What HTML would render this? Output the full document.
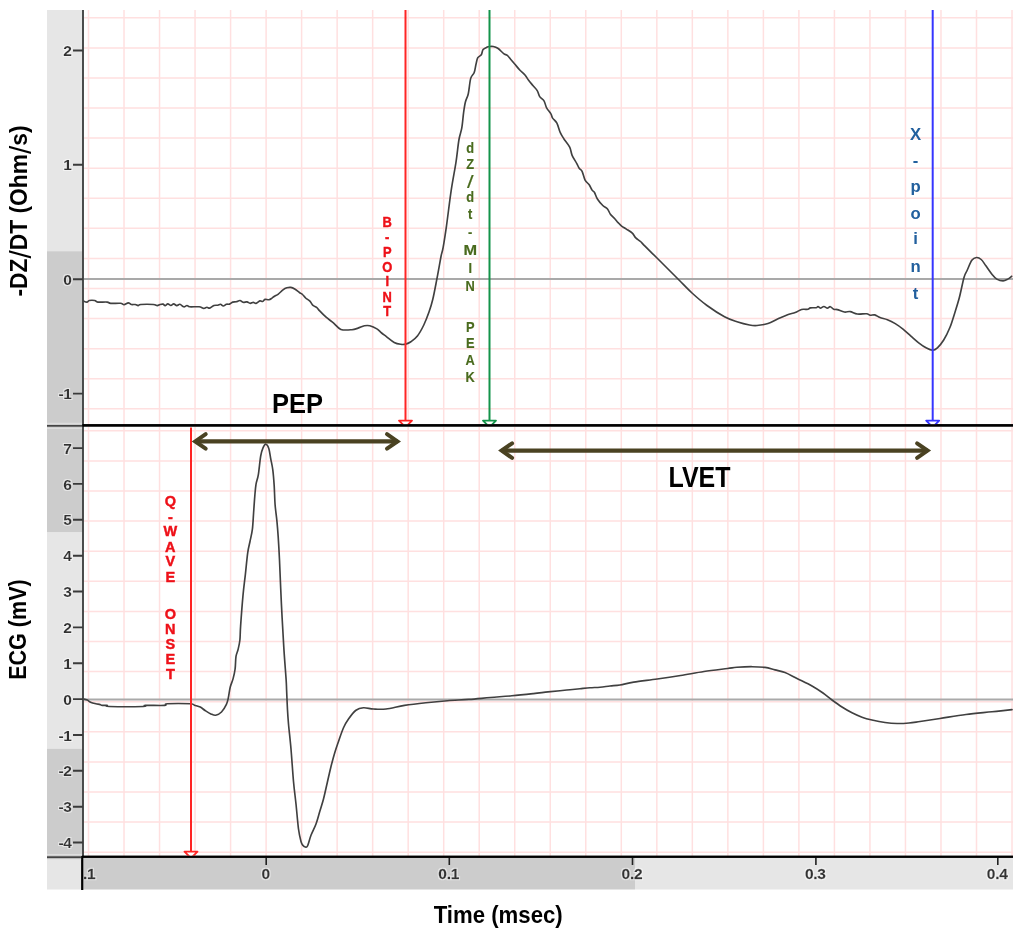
<!DOCTYPE html>
<html><head><meta charset="utf-8"><title>PEP and LVET</title>
<style>html,body{margin:0;padding:0;background:#fff;}body{width:1024px;height:932px;overflow:hidden;position:relative;}svg{position:absolute;left:0;top:0;display:block;}
.lbl{font-family:"Liberation Sans",Arial,sans-serif;font-weight:bold;}
.tk{font-family:"Liberation Sans",Arial,sans-serif;font-weight:bold;font-size:15.5px;letter-spacing:-0.3px;fill:#333;stroke:#333;stroke-width:0.15px;}
.st{font-family:"Liberation Sans",Arial,sans-serif;text-anchor:middle;}
</style></head><body>
<svg width="1024" height="932" viewBox="0 0 1024 932">
<defs><filter id="halo" x="-20%" y="-20%" width="140%" height="140%"><feMorphology in="SourceAlpha" operator="dilate" radius="1" result="d"/><feGaussianBlur in="d" stdDeviation="0.6" result="b"/><feFlood flood-color="#fff" flood-opacity="0.5"/><feComposite in2="b" operator="in" result="h"/><feMerge><feMergeNode in="h"/><feMergeNode in="SourceGraphic"/></feMerge></filter><clipPath id="cpt"><rect x="83" y="10" width="930" height="415"/></clipPath><clipPath id="cpb"><rect x="83" y="427" width="930" height="429"/></clipPath><clipPath id="cmt"><rect x="0" y="0" width="1024" height="424.6"/></clipPath><clipPath id="cmb"><rect x="0" y="427" width="1024" height="428.8"/></clipPath><clipPath id="cpx"><rect x="84" y="857" width="929" height="33"/></clipPath></defs>
<rect x="47" y="10" width="36" height="241.2" fill="#e6e6e6"/>
<rect x="47" y="251.2" width="36" height="174.3" fill="#cccccc"/>
<rect x="47" y="426.5" width="36" height="106" fill="#cccccc"/>
<rect x="47" y="532.5" width="36" height="216.2" fill="#e6e6e6"/>
<rect x="47" y="748.7" width="36" height="108" fill="#cccccc"/>
<rect x="47" y="856.8" width="36" height="32.7" fill="#e6e6e6"/>
<rect x="83" y="856.8" width="552" height="32.7" fill="#cccccc"/>
<rect x="635" y="856.8" width="378" height="32.7" fill="#e6e6e6"/>
<path d="M88.50 10V425M88.50 427V856M124.02 10V425M124.02 427V856M159.54 10V425M159.54 427V856M195.06 10V425M195.06 427V856M230.58 10V425M230.58 427V856M266.10 10V425M266.10 427V856M301.62 10V425M301.62 427V856M337.14 10V425M337.14 427V856M372.66 10V425M372.66 427V856M408.18 10V425M408.18 427V856M443.70 10V425M443.70 427V856M479.22 10V425M479.22 427V856M514.74 10V425M514.74 427V856M550.26 10V425M550.26 427V856M585.78 10V425M585.78 427V856M621.30 10V425M621.30 427V856M656.82 10V425M656.82 427V856M692.34 10V425M692.34 427V856M727.86 10V425M727.86 427V856M763.38 10V425M763.38 427V856M798.90 10V425M798.90 427V856M834.42 10V425M834.42 427V856M869.94 10V425M869.94 427V856M905.46 10V425M905.46 427V856M940.98 10V425M940.98 427V856M976.50 10V425M976.50 427V856M1012.02 10V425M1012.02 427V856M84 17.80H1013M84 47.88H1013M84 77.96H1013M84 108.04H1013M84 138.12H1013M84 168.20H1013M84 198.28H1013M84 228.36H1013M84 258.44H1013M84 288.52H1013M84 318.60H1013M84 348.68H1013M84 378.76H1013M84 408.84H1013M84 430.80H1013M84 460.90H1013M84 491.00H1013M84 521.10H1013M84 551.20H1013M84 581.30H1013M84 611.40H1013M84 641.50H1013M84 671.60H1013M84 701.70H1013M84 731.80H1013M84 761.90H1013M84 792.00H1013M84 822.10H1013M84 852.20H1013" stroke="#ffe0e0" stroke-width="1.5" fill="none"/>
<path d="M84 279.1H1013M84 699.4H1013" stroke="#a9a9a9" stroke-width="2" fill="none"/>
<g clip-path="url(#cpt)"><path d="M83.10 300.90C83.73 301.10 85.88 302.17 86.90 302.10C87.93 302.03 87.95 300.77 89.25 300.50C90.55 300.23 93.28 300.23 94.70 300.50C96.12 300.77 95.72 301.83 97.80 302.10C99.88 302.37 105.05 301.88 107.20 302.10C109.35 302.32 108.48 303.20 110.70 303.40C112.92 303.60 118.28 303.08 120.50 303.30C122.72 303.52 122.70 304.77 124.00 304.70C125.30 304.63 127.07 302.93 128.30 302.90C129.53 302.87 130.23 304.23 131.40 304.50C132.57 304.77 134.18 304.32 135.30 304.50C136.42 304.68 137.18 305.60 138.10 305.60C139.02 305.60 138.27 304.68 140.80 304.50C143.33 304.32 150.57 304.32 153.30 304.50C156.03 304.68 156.08 305.60 157.20 305.60C158.32 305.60 159.03 304.75 160.00 304.50C160.97 304.25 162.15 303.92 163.00 304.10C163.85 304.28 164.30 305.63 165.10 305.60C165.90 305.57 166.83 303.92 167.80 303.90C168.77 303.88 169.92 305.50 170.90 305.50C171.88 305.50 172.72 303.88 173.70 303.90C174.68 303.92 175.77 305.53 176.80 305.60C177.83 305.67 178.73 304.10 179.90 304.30C181.07 304.50 182.62 306.60 183.80 306.80C184.98 307.00 186.02 305.50 187.00 305.50C187.98 305.50 187.68 306.58 189.70 306.80C191.72 307.02 196.76 306.53 199.10 306.80C201.44 307.07 202.45 308.32 203.75 308.40C205.05 308.48 205.93 307.35 206.90 307.30C207.88 307.25 208.43 308.40 209.60 308.10C210.77 307.80 212.53 305.98 213.90 305.50C215.27 305.02 216.70 305.40 217.80 305.20C218.90 305.00 219.58 304.17 220.50 304.30C221.42 304.43 222.32 306.00 223.30 306.00C224.28 306.00 225.37 304.62 226.40 304.30C227.43 303.98 228.45 304.47 229.50 304.10C230.55 303.73 231.58 302.50 232.70 302.10C233.82 301.70 234.98 301.97 236.20 301.70C237.42 301.43 238.85 300.40 240.00 300.50C241.15 300.60 241.93 302.07 243.10 302.30C244.27 302.53 245.82 301.72 247.00 301.90C248.18 302.08 249.15 303.33 250.20 303.40C251.25 303.47 252.33 302.30 253.30 302.30C254.27 302.30 254.90 303.63 256.00 303.40C257.10 303.17 258.78 301.22 259.90 300.90C261.02 300.58 261.85 301.75 262.70 301.50C263.55 301.25 263.97 299.70 265.00 299.40C266.03 299.10 267.73 299.92 268.90 299.70C270.07 299.48 271.08 298.68 272.00 298.10C272.92 297.53 273.35 296.92 274.40 296.25C275.45 295.58 276.87 295.18 278.30 294.10C279.73 293.03 281.57 290.85 283.00 289.80C284.43 288.75 285.60 288.20 286.90 287.80C288.20 287.40 289.50 287.20 290.80 287.40C292.10 287.60 293.27 288.15 294.70 289.00C296.13 289.85 298.10 291.58 299.40 292.50C300.70 293.42 301.47 293.58 302.50 294.50C303.53 295.42 304.37 296.90 305.60 298.00C306.83 299.10 308.67 299.87 309.90 301.10C311.13 302.33 311.88 304.37 313.00 305.40C314.12 306.43 315.48 306.38 316.60 307.30C317.72 308.22 318.12 309.25 319.70 310.90C321.28 312.55 323.87 315.23 326.10 317.20C328.33 319.17 330.63 320.67 333.10 322.70C335.57 324.73 337.77 328.23 340.90 329.40C344.03 330.57 349.03 329.92 351.90 329.70C354.77 329.48 356.02 328.75 358.10 328.10C360.18 327.45 362.45 326.18 364.40 325.80C366.35 325.42 367.72 325.28 369.80 325.80C371.88 326.32 374.93 327.70 376.90 328.90C378.87 330.10 380.02 331.72 381.60 333.00C383.18 334.28 384.30 335.03 386.40 336.60C388.50 338.17 391.83 341.12 394.20 342.40C396.57 343.68 398.67 344.02 400.60 344.30C402.53 344.58 404.08 344.52 405.80 344.10C407.52 343.68 408.97 343.15 410.90 341.80C412.83 340.45 415.25 338.80 417.40 336.00C419.55 333.20 421.87 328.98 423.80 325.00C425.73 321.02 427.50 316.38 429.00 312.10C430.50 307.82 431.52 304.67 432.80 299.30C434.08 293.93 435.62 285.48 436.70 279.90C437.78 274.32 438.55 269.87 439.30 265.80C440.05 261.73 440.57 258.52 441.20 255.50C441.83 252.48 442.22 252.65 443.10 247.70C443.98 242.75 445.15 235.35 446.50 225.80C447.85 216.25 449.62 201.02 451.20 190.40C452.78 179.78 454.72 170.50 456.00 162.10C457.28 153.70 457.93 145.70 458.90 140.00C459.87 134.30 461.02 132.47 461.80 127.90C462.58 123.33 463.00 116.92 463.60 112.60C464.20 108.28 464.62 105.15 465.40 102.00C466.18 98.85 467.42 97.63 468.30 93.70C469.18 89.77 469.72 81.93 470.70 78.40C471.68 74.87 473.32 74.87 474.20 72.50C475.08 70.13 475.40 66.67 476.00 64.20C476.60 61.73 476.92 59.27 477.80 57.70C478.68 56.13 480.42 56.17 481.30 54.80C482.18 53.43 482.12 50.78 483.10 49.50C484.08 48.22 486.12 47.60 487.20 47.10C488.28 46.60 488.62 46.60 489.60 46.50C490.58 46.40 491.73 46.20 493.10 46.50C494.47 46.80 496.03 47.12 497.80 48.30C499.57 49.48 502.12 52.42 503.70 53.60C505.28 54.78 506.15 54.47 507.30 55.40C508.45 56.33 509.37 57.77 510.60 59.20C511.83 60.63 513.13 62.15 514.70 64.00C516.27 65.85 518.25 68.43 520.00 70.30C521.75 72.17 523.77 73.53 525.20 75.20C526.63 76.87 527.32 78.58 528.60 80.30C529.88 82.02 531.47 83.78 532.90 85.50C534.33 87.22 536.07 88.75 537.20 90.60C538.33 92.45 538.57 94.88 539.70 96.60C540.83 98.32 542.85 99.03 544.00 100.90C545.15 102.77 545.45 105.65 546.60 107.80C547.75 109.95 549.90 112.08 550.90 113.80C551.90 115.52 551.60 116.53 552.60 118.10C553.60 119.67 555.62 120.77 556.90 123.20C558.18 125.63 559.15 130.12 560.30 132.70C561.45 135.28 562.23 136.30 563.80 138.70C565.37 141.10 568.32 144.33 569.70 147.10C571.08 149.87 570.92 152.55 572.10 155.30C573.28 158.05 575.62 161.43 576.80 163.60C577.98 165.77 578.32 167.02 579.20 168.30C580.08 169.58 581.12 169.33 582.10 171.30C583.08 173.27 583.92 177.85 585.10 180.10C586.28 182.35 588.03 183.13 589.20 184.80C590.37 186.47 591.22 188.82 592.10 190.10C592.98 191.38 593.62 191.02 594.50 192.50C595.38 193.98 596.02 196.83 597.40 199.00C598.78 201.17 601.12 203.83 602.80 205.50C604.48 207.17 606.23 207.53 607.50 209.00C608.77 210.47 609.22 212.72 610.40 214.30C611.58 215.88 613.32 217.12 614.60 218.50C615.88 219.88 616.93 221.33 618.10 222.60C619.27 223.87 620.22 225.02 621.60 226.10C622.98 227.18 624.62 227.92 626.40 229.10C628.18 230.28 630.73 231.73 632.30 233.20C633.87 234.67 634.43 236.52 635.80 237.90C637.17 239.28 638.97 240.12 640.50 241.50C642.03 242.88 642.25 243.45 645.00 246.20C647.75 248.95 653.33 254.37 657.00 258.00C660.67 261.63 663.25 264.25 667.00 268.00C670.75 271.75 675.33 276.33 679.50 280.50C683.67 284.67 687.42 288.83 692.00 293.00C696.58 297.17 701.58 301.54 707.00 305.50C712.42 309.46 719.50 314.04 724.50 316.75C729.50 319.46 732.83 320.38 737.00 321.75C741.17 323.12 746.17 324.38 749.50 325.00C752.83 325.62 753.92 325.75 757.00 325.50C760.08 325.25 764.57 324.58 768.00 323.50C771.43 322.42 774.43 320.43 777.60 319.00C780.77 317.57 784.07 315.97 787.00 314.90C789.93 313.83 793.07 313.38 795.20 312.60C797.33 311.82 798.43 310.75 799.80 310.20C801.17 309.65 802.03 309.45 803.40 309.30C804.77 309.15 806.83 309.53 808.00 309.30C809.17 309.07 809.02 308.17 810.40 307.90C811.78 307.63 815.03 307.93 816.30 307.70C817.57 307.47 817.32 306.43 818.00 306.50C818.68 306.57 819.42 308.10 820.40 308.10C821.38 308.10 822.73 306.50 823.90 306.50C825.07 306.50 826.33 308.07 827.40 308.10C828.47 308.13 829.23 306.50 830.30 306.70C831.37 306.90 832.63 308.82 833.80 309.30C834.97 309.78 835.53 309.15 837.30 309.60C839.07 310.05 842.25 311.67 844.40 312.00C846.55 312.33 848.05 311.27 850.20 311.60C852.35 311.93 854.57 313.63 857.30 314.00C860.03 314.37 864.45 313.60 866.60 313.80C868.75 314.00 868.83 315.02 870.20 315.20C871.57 315.38 873.17 314.50 874.80 314.90C876.43 315.30 877.90 316.80 880.00 317.60C882.10 318.40 884.86 318.70 887.40 319.70C889.94 320.70 892.65 322.03 895.25 323.60C897.85 325.17 900.39 327.02 903.00 329.10C905.61 331.18 908.28 333.82 910.90 336.10C913.52 338.38 916.10 340.80 918.70 342.80C921.30 344.80 924.16 346.87 926.50 348.10C928.84 349.33 930.93 350.25 932.75 350.20C934.57 350.15 935.57 349.50 937.40 347.80C939.23 346.10 941.62 343.38 943.70 340.00C945.78 336.62 948.08 331.93 949.90 327.50C951.72 323.07 953.03 318.35 954.60 313.40C956.17 308.45 957.73 303.78 959.30 297.80C960.87 291.82 962.70 282.05 964.00 277.50C965.30 272.95 965.80 273.37 967.10 270.50C968.40 267.63 970.23 262.47 971.80 260.30C973.37 258.13 974.93 257.63 976.50 257.50C978.07 257.37 979.63 258.12 981.20 259.50C982.77 260.88 984.08 263.32 985.90 265.80C987.72 268.28 990.28 272.18 992.10 274.40C993.92 276.62 994.97 278.02 996.80 279.10C998.63 280.18 1001.27 280.90 1003.10 280.90C1004.93 280.90 1006.32 279.88 1007.75 279.10C1009.18 278.33 1011.04 276.73 1011.70 276.25" fill="none" stroke="#404040" stroke-width="1.65" stroke-linejoin="round" stroke-linecap="round"/></g>
<g clip-path="url(#cpb)"><path d="M83.10 699.00C83.80 699.18 86.07 699.57 87.30 700.10C88.53 700.63 89.07 701.58 90.50 702.20C91.93 702.82 94.38 703.43 95.90 703.80C97.42 704.17 98.53 704.13 99.60 704.40C100.67 704.67 101.03 705.23 102.30 705.40C103.57 705.57 106.03 705.22 107.20 705.40C108.37 705.58 103.30 706.32 109.30 706.50C115.30 706.68 137.20 706.68 143.20 706.50C149.20 706.32 141.73 705.58 145.30 705.40C148.87 705.22 160.93 705.67 164.60 705.40C168.27 705.13 163.00 704.07 167.30 703.80C171.60 703.53 185.87 703.57 190.40 703.80C194.93 704.03 192.85 704.65 194.50 705.20C196.15 705.75 198.53 706.22 200.30 707.10C202.07 707.98 203.33 709.37 205.10 710.50C206.87 711.63 209.13 713.12 210.90 713.90C212.67 714.68 213.93 715.52 215.70 715.20C217.47 714.88 219.72 713.82 221.50 712.00C223.28 710.18 225.27 706.63 226.40 704.30C227.53 701.97 227.67 700.83 228.30 698.00C228.93 695.17 229.40 690.53 230.20 687.30C231.00 684.07 232.28 681.65 233.10 678.60C233.92 675.55 234.62 672.70 235.10 669.00C235.58 665.30 235.52 659.62 236.00 656.40C236.48 653.18 237.35 652.43 238.00 649.70C238.65 646.97 239.47 643.93 239.90 640.00C240.33 636.07 240.08 633.53 240.60 626.10C241.12 618.67 242.20 604.07 243.00 595.40C243.80 586.73 244.62 581.20 245.40 574.10C246.18 567.00 246.92 558.32 247.70 552.80C248.48 547.28 249.32 544.93 250.10 541.00C250.88 537.07 251.82 533.92 252.40 529.20C252.98 524.48 253.20 518.22 253.60 512.70C254.00 507.18 254.40 500.83 254.80 496.10C255.20 491.37 255.42 487.83 256.00 484.30C256.58 480.77 257.52 479.62 258.30 474.90C259.08 470.18 259.90 460.53 260.70 456.00C261.50 451.47 262.23 449.67 263.10 447.70C263.97 445.73 264.95 444.08 265.90 444.20C266.85 444.32 267.98 445.92 268.80 448.40C269.62 450.88 270.13 455.52 270.80 459.10C271.47 462.68 272.23 465.43 272.80 469.90C273.37 474.37 273.82 480.10 274.20 485.90C274.58 491.70 274.65 498.88 275.10 504.70C275.55 510.52 276.38 515.43 276.90 520.80C277.42 526.17 277.77 530.37 278.20 536.90C278.63 543.43 278.97 548.83 279.50 560.00C280.03 571.17 280.68 589.33 281.40 603.90C282.12 618.47 283.02 634.83 283.80 647.40C284.58 659.97 285.63 672.20 286.10 679.30C286.57 686.40 286.37 684.88 286.60 690.00C286.83 695.12 287.18 704.33 287.50 710.00C287.82 715.67 287.92 717.50 288.50 724.00C289.08 730.50 290.17 739.42 291.00 749.00C291.83 758.58 292.67 772.33 293.50 781.50C294.33 790.67 295.17 796.08 296.00 804.00C296.83 811.92 297.67 822.75 298.50 829.00C299.33 835.25 300.25 838.75 301.00 841.50C301.75 844.25 302.28 844.58 303.00 845.50C303.72 846.42 304.55 846.92 305.30 847.00C306.05 847.08 306.55 847.96 307.50 846.00C308.45 844.04 309.58 838.92 311.00 835.25C312.42 831.58 314.54 827.96 316.00 824.00C317.46 820.04 318.50 815.67 319.75 811.50C321.00 807.33 322.25 803.79 323.50 799.00C324.75 794.21 326.00 788.17 327.25 782.75C328.50 777.33 329.75 771.50 331.00 766.50C332.25 761.50 333.50 756.92 334.75 752.75C336.00 748.58 337.04 745.67 338.50 741.50C339.96 737.33 341.83 731.50 343.50 727.75C345.17 724.00 346.42 721.92 348.50 719.00C350.58 716.08 353.50 712.12 356.00 710.25C358.50 708.38 360.58 707.96 363.50 707.75C366.42 707.54 369.75 708.79 373.50 709.00C377.25 709.21 380.83 709.60 386.00 709.00C391.17 708.40 397.85 706.45 404.50 705.40C411.15 704.35 418.75 703.48 425.90 702.70C433.05 701.92 440.23 701.25 447.40 700.70C454.57 700.15 461.73 699.93 468.90 699.40C476.07 698.87 483.23 698.10 490.40 697.50C497.57 696.90 504.73 696.45 511.90 695.80C519.07 695.15 527.38 694.25 533.40 693.60C539.42 692.95 543.57 692.38 548.00 691.90C552.43 691.42 556.33 691.07 560.00 690.70C563.67 690.33 566.67 690.03 570.00 689.70C573.33 689.38 576.67 689.07 580.00 688.75C583.33 688.43 586.67 688.06 590.00 687.80C593.33 687.54 596.67 687.50 600.00 687.20C603.33 686.90 606.67 686.37 610.00 686.00C613.33 685.63 616.05 685.65 620.00 685.00C623.95 684.35 627.50 683.10 633.70 682.10C639.90 681.10 649.38 680.10 657.20 679.00C665.02 677.90 672.80 676.75 680.60 675.50C688.40 674.25 696.18 672.67 704.00 671.50C711.82 670.33 722.02 669.20 727.50 668.50C732.98 667.80 732.82 667.60 736.90 667.30C740.98 667.00 747.32 666.68 752.00 666.70C756.68 666.72 761.17 666.87 765.00 667.40C768.83 667.93 771.67 669.05 775.00 669.90C778.33 670.75 781.33 671.07 785.00 672.50C788.67 673.93 792.50 676.25 797.00 678.50C801.50 680.75 807.67 683.58 812.00 686.00C816.33 688.42 819.67 690.67 823.00 693.00C826.33 695.33 828.83 697.67 832.00 700.00C835.17 702.33 838.67 704.87 842.00 707.00C845.33 709.13 848.67 711.10 852.00 712.80C855.33 714.50 858.67 716.00 862.00 717.20C865.33 718.40 868.17 719.12 872.00 720.00C875.83 720.88 880.83 721.92 885.00 722.50C889.17 723.08 893.00 723.42 897.00 723.50C901.00 723.58 905.17 723.33 909.00 723.00C912.83 722.67 914.83 722.25 920.00 721.50C925.17 720.75 932.33 719.67 940.00 718.50C947.67 717.33 957.33 715.62 966.00 714.50C974.67 713.38 984.33 712.62 992.00 711.80C999.67 710.98 1008.67 709.97 1012.00 709.60" fill="none" stroke="#404040" stroke-width="1.65" stroke-linejoin="round" stroke-linecap="round"/></g>
<path d="M83 10V856" stroke="#444" stroke-width="1.9" fill="none"/>
<path d="M82.2 856V890" stroke="#000" stroke-width="2.2" fill="none"/>
<path d="M47 423.3H82M47 428.3H82M47 854.6H82M47 859.3H81.1" stroke="#e2e2e2" stroke-width="1" fill="none"/>
<path d="M47 425.9H82.5M47 857.2H81.1" stroke="#444" stroke-width="1.9" fill="none"/>
<path d="M82.5 425.4H1013M82 856.8H1013" stroke="#000" stroke-width="2.1" fill="none"/>
<path d="M73 50.5H83M73 164.8H83M73 279.2H83M73 393.6H83M73 448.1H83M73 483.9H83M73 519.8H83M73 555.7H83M73 591.5H83M73 627.4H83M73 663.2H83M73 699.1H83M73 735.0H83M73 770.8H83M73 806.7H83M73 842.5H83" stroke="#3a3a3a" stroke-width="1.9" fill="none"/>
<g filter="url(#halo)">
<text class="tk" x="71.6" y="56.1" text-anchor="end">2</text>
<text class="tk" x="71.6" y="170.4" text-anchor="end">1</text>
<text class="tk" x="71.6" y="284.8" text-anchor="end">0</text>
<text class="tk" x="71.6" y="399.2" text-anchor="end">-1</text>
<text class="tk" x="71.6" y="453.7" text-anchor="end">7</text>
<text class="tk" x="71.6" y="489.5" text-anchor="end">6</text>
<text class="tk" x="71.6" y="525.4" text-anchor="end">5</text>
<text class="tk" x="71.6" y="561.3" text-anchor="end">4</text>
<text class="tk" x="71.6" y="597.1" text-anchor="end">3</text>
<text class="tk" x="71.6" y="633.0" text-anchor="end">2</text>
<text class="tk" x="71.6" y="668.8" text-anchor="end">1</text>
<text class="tk" x="71.6" y="704.7" text-anchor="end">0</text>
<text class="tk" x="71.6" y="740.6" text-anchor="end">-1</text>
<text class="tk" x="71.6" y="776.4" text-anchor="end">-2</text>
<text class="tk" x="71.6" y="812.3" text-anchor="end">-3</text>
<text class="tk" x="71.6" y="848.1" text-anchor="end">-4</text>
</g>
<path d="M266.2 857V865M449.3 857V865M632.5 857V865M815.9 857V865M997.8 857V865" stroke="#222" stroke-width="1.6" fill="none"/>
<g clip-path="url(#cpx)"><g filter="url(#halo)">
<text class="tk" x="82.6" y="879.2" text-anchor="middle" style="stroke-width:0.3px">-0.1</text>
<text class="tk" x="265.6" y="879.2" text-anchor="middle" style="stroke-width:0.3px">0</text>
<text class="tk" x="448.7" y="879.2" text-anchor="middle" style="stroke-width:0.3px">0.1</text>
<text class="tk" x="631.9" y="879.2" text-anchor="middle" style="stroke-width:0.3px">0.2</text>
<text class="tk" x="815.3" y="879.2" text-anchor="middle" style="stroke-width:0.3px">0.3</text>
<text class="tk" x="997.2" y="879.2" text-anchor="middle" style="stroke-width:0.3px">0.4</text>
</g></g>
<g clip-path="url(#cmt)">
<path d="M405.5 10.0V420.6" stroke="#ff2424" stroke-width="2" fill="none"/>
<path d="M399.0 420.6H412.0L405.5 427.1Z" stroke="#ff2424" stroke-width="1.8" fill="#fff" stroke-linejoin="round"/>
</g>
<g clip-path="url(#cmt)">
<path d="M489.5 10.0V420.6" stroke="#13944a" stroke-width="2" fill="none"/>
<path d="M483.0 420.6H496.0L489.5 427.1Z" stroke="#13944a" stroke-width="1.8" fill="#fff" stroke-linejoin="round"/>
</g>
<g clip-path="url(#cmt)">
<path d="M932.7 10.0V420.6" stroke="#3535ff" stroke-width="2" fill="none"/>
<path d="M926.2 420.6H939.2L932.7 427.1Z" stroke="#3535ff" stroke-width="1.8" fill="#fff" stroke-linejoin="round"/>
</g>
<g clip-path="url(#cmb)">
<path d="M191.0 427.6V851.6" stroke="#ff2424" stroke-width="2" fill="none"/>
<path d="M184.5 851.6H197.5L191.0 858.1Z" stroke="#ff2424" stroke-width="1.8" fill="#fff" stroke-linejoin="round"/>
</g>
<path d="M82.5 425.4H1013M82 856.8H1013" stroke="#000" stroke-width="2.1" fill="none"/>
<path d="M195.2 441.4H397.5" stroke="#4a4222" stroke-width="4.4" fill="none"/>
<path d="M205.7 434.1L195.2 441.4L205.7 448.7" stroke="#4a4222" stroke-width="4" fill="none" stroke-linecap="round" stroke-linejoin="miter"/>
<path d="M387.0 434.1L397.5 441.4L387.0 448.7" stroke="#4a4222" stroke-width="4" fill="none" stroke-linecap="round" stroke-linejoin="miter"/>
<path d="M501.6 450.6H927.6" stroke="#4a4222" stroke-width="4.4" fill="none"/>
<path d="M512.1 443.3L501.6 450.6L512.1 457.9" stroke="#4a4222" stroke-width="4" fill="none" stroke-linecap="round" stroke-linejoin="miter"/>
<path d="M917.1 443.3L927.6 450.6L917.1 457.9" stroke="#4a4222" stroke-width="4" fill="none" stroke-linecap="round" stroke-linejoin="miter"/>
<text class="lbl" x="272" y="412.6" font-size="28.3" textLength="51" lengthAdjust="spacingAndGlyphs" fill="#000">PEP</text>
<text class="lbl" x="668.5" y="487" font-size="29" textLength="62" lengthAdjust="spacingAndGlyphs" fill="#000">LVET</text>
<text class="st" transform="translate(387.2,226.9) scale(0.86,1.00)" style="font-size:15.0px;font-weight:bold;fill:#ee1018;stroke:#ee1018;stroke-width:0.45px">B</text>
<text class="st" transform="translate(387.2,241.7) scale(0.86,1.00)" style="font-size:15.0px;font-weight:bold;fill:#ee1018;stroke:#ee1018;stroke-width:0.45px">-</text>
<text class="st" transform="translate(387.2,256.5) scale(0.86,1.00)" style="font-size:15.0px;font-weight:bold;fill:#ee1018;stroke:#ee1018;stroke-width:0.45px">P</text>
<text class="st" transform="translate(387.2,271.6) scale(0.86,1.00)" style="font-size:15.0px;font-weight:bold;fill:#ee1018;stroke:#ee1018;stroke-width:0.45px">O</text>
<text class="st" transform="translate(387.2,286.3) scale(0.86,1.00)" style="font-size:15.0px;font-weight:bold;fill:#ee1018;stroke:#ee1018;stroke-width:0.45px">I</text>
<text class="st" transform="translate(387.2,301.5) scale(0.86,1.00)" style="font-size:15.0px;font-weight:bold;fill:#ee1018;stroke:#ee1018;stroke-width:0.45px">N</text>
<text class="st" transform="translate(387.2,316.3) scale(0.86,1.00)" style="font-size:15.0px;font-weight:bold;fill:#ee1018;stroke:#ee1018;stroke-width:0.45px">T</text>
<text class="st" transform="translate(470.2,152.9) scale(0.88,1.00)" style="font-size:14.6px;font-weight:bold;fill:#4a6b1e;stroke:#4a6b1e;stroke-width:0.15px">d</text>
<text class="st" transform="translate(470.2,168.9) scale(0.88,1.00)" style="font-size:14.6px;font-weight:bold;fill:#4a6b1e;stroke:#4a6b1e;stroke-width:0.15px">Z</text>
<text class="st" transform="translate(470.2,187.6) scale(1.25,1.00)" style="font-size:19.0px;font-weight:normal;fill:#4a6b1e;stroke:#4a6b1e;stroke-width:0.15px">/</text>
<text class="st" transform="translate(470.2,202.1) scale(0.88,1.00)" style="font-size:14.6px;font-weight:bold;fill:#4a6b1e;stroke:#4a6b1e;stroke-width:0.15px">d</text>
<text class="st" transform="translate(470.2,218.5) scale(0.88,1.00)" style="font-size:14.6px;font-weight:bold;fill:#4a6b1e;stroke:#4a6b1e;stroke-width:0.15px">t</text>
<text class="st" transform="translate(470.2,236.9) scale(0.88,1.00)" style="font-size:14.6px;font-weight:bold;fill:#4a6b1e;stroke:#4a6b1e;stroke-width:0.15px">-</text>
<text class="st" transform="translate(470.2,255.2) scale(1.12,1.00)" style="font-size:14.6px;font-weight:bold;fill:#4a6b1e;stroke:#4a6b1e;stroke-width:0.15px">M</text>
<text class="st" transform="translate(470.2,273.1) scale(0.88,1.00)" style="font-size:14.6px;font-weight:bold;fill:#4a6b1e;stroke:#4a6b1e;stroke-width:0.15px">I</text>
<text class="st" transform="translate(470.2,290.9) scale(0.88,1.00)" style="font-size:14.6px;font-weight:bold;fill:#4a6b1e;stroke:#4a6b1e;stroke-width:0.15px">N</text>
<text class="st" transform="translate(470.2,331.9) scale(0.88,1.00)" style="font-size:14.6px;font-weight:bold;fill:#4a6b1e;stroke:#4a6b1e;stroke-width:0.15px">P</text>
<text class="st" transform="translate(470.2,348.4) scale(0.88,1.00)" style="font-size:14.6px;font-weight:bold;fill:#4a6b1e;stroke:#4a6b1e;stroke-width:0.15px">E</text>
<text class="st" transform="translate(470.2,365.0) scale(0.88,1.00)" style="font-size:14.6px;font-weight:bold;fill:#4a6b1e;stroke:#4a6b1e;stroke-width:0.15px">A</text>
<text class="st" transform="translate(470.2,381.5) scale(0.88,1.00)" style="font-size:14.6px;font-weight:bold;fill:#4a6b1e;stroke:#4a6b1e;stroke-width:0.15px">K</text>
<text class="st" transform="translate(915.6,140.3) scale(1.00,1.00)" style="font-size:16.7px;font-weight:bold;fill:#22609e;stroke:#22609e;stroke-width:0.00px">X</text>
<text class="st" transform="translate(915.6,165.8) scale(1.00,1.00)" style="font-size:16.7px;font-weight:bold;fill:#22609e;stroke:#22609e;stroke-width:0.00px">-</text>
<text class="st" transform="translate(915.6,192.2) scale(1.00,1.00)" style="font-size:16.7px;font-weight:bold;fill:#22609e;stroke:#22609e;stroke-width:0.00px">p</text>
<text class="st" transform="translate(915.6,218.6) scale(1.00,1.00)" style="font-size:16.7px;font-weight:bold;fill:#22609e;stroke:#22609e;stroke-width:0.00px">o</text>
<text class="st" transform="translate(915.6,243.9) scale(1.00,1.00)" style="font-size:16.7px;font-weight:bold;fill:#22609e;stroke:#22609e;stroke-width:0.00px">i</text>
<text class="st" transform="translate(915.6,272.1) scale(1.00,1.00)" style="font-size:16.7px;font-weight:bold;fill:#22609e;stroke:#22609e;stroke-width:0.00px">n</text>
<text class="st" transform="translate(915.6,299.1) scale(1.00,1.00)" style="font-size:16.7px;font-weight:bold;fill:#22609e;stroke:#22609e;stroke-width:0.00px">t</text>
<text class="st" transform="translate(170.3,506.4) scale(0.98,1.00)" style="font-size:14.8px;font-weight:bold;fill:#ee1018;stroke:#ee1018;stroke-width:0.45px">Q</text>
<text class="st" transform="translate(170.3,522.0) scale(0.98,1.00)" style="font-size:14.8px;font-weight:bold;fill:#ee1018;stroke:#ee1018;stroke-width:0.45px">-</text>
<text class="st" transform="translate(170.3,536.3) scale(0.98,1.00)" style="font-size:14.8px;font-weight:bold;fill:#ee1018;stroke:#ee1018;stroke-width:0.45px">W</text>
<text class="st" transform="translate(170.3,551.6) scale(0.98,1.00)" style="font-size:14.8px;font-weight:bold;fill:#ee1018;stroke:#ee1018;stroke-width:0.45px">A</text>
<text class="st" transform="translate(170.3,566.4) scale(0.98,1.00)" style="font-size:14.8px;font-weight:bold;fill:#ee1018;stroke:#ee1018;stroke-width:0.45px">V</text>
<text class="st" transform="translate(170.3,581.6) scale(0.98,1.00)" style="font-size:14.8px;font-weight:bold;fill:#ee1018;stroke:#ee1018;stroke-width:0.45px">E</text>
<text class="st" transform="translate(170.3,619.0) scale(0.98,1.00)" style="font-size:14.8px;font-weight:bold;fill:#ee1018;stroke:#ee1018;stroke-width:0.45px">O</text>
<text class="st" transform="translate(170.3,633.7) scale(0.98,1.00)" style="font-size:14.8px;font-weight:bold;fill:#ee1018;stroke:#ee1018;stroke-width:0.45px">N</text>
<text class="st" transform="translate(170.3,649.1) scale(0.98,1.00)" style="font-size:14.8px;font-weight:bold;fill:#ee1018;stroke:#ee1018;stroke-width:0.45px">S</text>
<text class="st" transform="translate(170.3,663.8) scale(0.98,1.00)" style="font-size:14.8px;font-weight:bold;fill:#ee1018;stroke:#ee1018;stroke-width:0.45px">E</text>
<text class="st" transform="translate(170.3,678.6) scale(0.98,1.00)" style="font-size:14.8px;font-weight:bold;fill:#ee1018;stroke:#ee1018;stroke-width:0.45px">T</text>
<text class="lbl" transform="translate(26.8,296.5) rotate(-90)" font-size="23.2" textLength="171" lengthAdjust="spacingAndGlyphs" fill="#000">-DZ<tspan font-size="30" dy="3.7" style="font-weight:normal">/</tspan><tspan dy="-3.7">DT (Ohm</tspan><tspan font-size="30" dy="3.7" style="font-weight:normal">/</tspan><tspan dy="-3.7">s)</tspan></text>
<text class="lbl" transform="translate(25.8,679.8) rotate(-90)" font-size="23.5" textLength="100.5" lengthAdjust="spacingAndGlyphs" fill="#000">ECG (mV)</text>
<text class="lbl" x="433.7" y="922.6" font-size="23.5" textLength="129" lengthAdjust="spacingAndGlyphs" fill="#000">Time (msec)</text>
</svg></body></html>
